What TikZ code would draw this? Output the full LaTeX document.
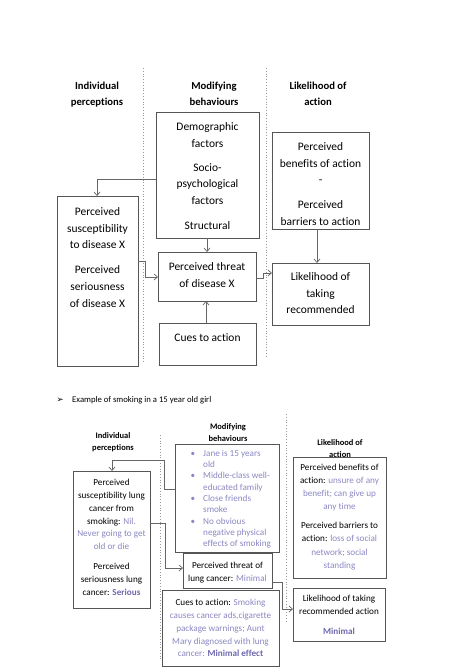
\documentclass[tikz,border=0pt]{standalone}
\usepackage{fontspec}
\setmainfont[Ligatures=NoCommon]{Carlito}
\newfontfamily\dejavu{DejaVu Sans}
\usetikzlibrary{arrows.meta,fit}
\definecolor{pur}{HTML}{8B87C2}
\definecolor{purb}{HTML}{6D67AD}
\definecolor{bord}{HTML}{555555}
\definecolor{dotc}{HTML}{999999}
\tikzset{
  box/.style={draw=bord, line width=0.9bp, inner sep=0pt, outer sep=0pt},
  arr/.style={draw=bord!90, line width=0.7bp, -{Straight Barb[length=3.5bp,width=6bp]}},
  dotline/.style={draw=dotc, line width=0.8bp, dotted},
  txtA/.style={anchor=north, align=center, inner sep=0pt, font=\fontsize{11.5}{16.6}\selectfont},
  hdrA/.style={anchor=north, align=center, inner sep=0pt, font=\fontsize{10.7}{16}\selectfont\bfseries},
  txtB/.style={anchor=north, align=center, inner sep=0pt, font=\fontsize{9.2}{13}\selectfont},
  hdrB/.style={anchor=north, align=center, inner sep=0pt, font=\fontsize{8.5}{12.5}\selectfont\bfseries},
}
\begin{document}
\begin{tikzpicture}[x=1bp,y=-1bp]
\useasboundingbox (0,0) rectangle (474,670);
% ---------- top diagram ----------
\draw[dotline] (143,68) -- (143,363);
\draw[dotline] (266,68) -- (266,358);
\node[hdrA] (h1) at (97,82) {Individual\\perceptions};
\node[hdrA] (h2) at (214,82) {Modifying\\behaviours};
\node[hdrA] (h3) at (318,82) {Likelihood of\\action};

\node[box, fit={(57,196) (138,366)}] (lp) {};
\node[box, fit={(156,112) (259,238)}] (mod) {};
\node[box, fit={(158,252) (256,301)}] (thr) {};
\node[box, fit={(159,323) (256,365)}] (cue) {};
\node[box, fit={(272,132) (369,229)}] (ben) {};
\node[box, fit={(272,263) (369,325)}] (lik) {};

\node[txtA] (lpT) at (97.5,207.7) {Perceived\\susceptibility\\to disease X\\[8.5bp]Perceived\\seriousness\\of disease X};
\node[txtA] (modT) at (207.5,122.7) {Demographic\\factors\\[7.4bp]Socio-\\psychological\\factors\\[8.4bp]Structural};
\node[txtA] (thrT) at (207,262.7) {Perceived threat\\of disease X};
\node[txtA] (cueT) at (207.5,333.7) {Cues to action};
\node[txtA] (benT) at (320.5,142.7) {Perceived\\benefits of action\\-\\[8bp]Perceived\\barriers to action};
\node[txtA] (likT) at (320.5,272.7) {Likelihood of\\taking\\recommended};

\coordinate (t1) at (97,179);
\draw[arr] (t1 -| mod.west) -- (t1) -- (t1 |- lp.north);
\coordinate (t2) at (207,0);
\draw[arr] (t2 |- mod.south) -- (t2 |- thr.north);
\coordinate (t3a) at (145,261);
\coordinate (t3b) at (145,277);
\draw[arr] (t3a -| lp.east) -- (t3a) -- (t3b) -- (t3b -| thr.west);
\coordinate (t4a) at (263,278);
\coordinate (t4b) at (263,273);
\draw[arr] (t4a -| thr.east) -- (t4a) -- (t4b) -- (t4b -| lik.west);
\coordinate (t5) at (317,0);
\draw[arr] (t5 |- ben.south) -- (t5 |- lik.north);
\coordinate (t6) at (206,0);
\draw[arr] (t6 |- cue.north) -- (t6 |- thr.south);

% ---------- example line ----------
\node[anchor=west, inner sep=0pt, font=\dejavu\fontsize{8.5}{9}\selectfont] (bul) at (56.5,400) {➢};
\node[anchor=west, inner sep=0pt, font=\fontsize{8.7}{10}\selectfont] (ex) at (72,400) {Example of smoking in a 15 year old girl};

% ---------- bottom diagram ----------
\draw[dotline] (160,435) -- (160,660);
\draw[dotline] (286,414) -- (286,622);
\node[hdrB] (bh1) at (113,431.9) {Individual\\perceptions};
\node[hdrB] (bh2) at (228,422.9) {Modifying\\behaviours};
\node[hdrB] (bh3) at (340,438.9) {Likelihood of\\action};

\node[box, fit={(73,471) (150,608)}] (blp) {};
\node[box, fit={(175,444) (279,552)}] (bmod) {};
\node[box, fit={(183,553) (272,588)}] (bthr) {};
\node[box, fit={(162,590) (279,666)}] (bcue) {};
\node[box, fit={(293,457) (386,578)}] (bben) {};
\node[box, fit={(293,588) (385,641)}] (blik) {};

\node[txtB] (blpT) at (111.5,478.6) {Perceived\\susceptibility lung\\cancer from\\smoking: \textcolor{pur}{Nil.}\\\textcolor{pur}{Never going to get}\\\textcolor{pur}{old or die}\\[7bp]Perceived\\seriousness lung\\cancer: \textcolor{purb}{\bfseries Serious}};
\node[anchor=north west, align=left, inner sep=0pt, text=pur, font=\fontsize{9.2}{11.4}\selectfont] (bmodT) at (190.5,449.6) {\makebox[12.5bp][l]{•}Jane is 15 years\\\hspace*{12.5bp}old\\\makebox[12.5bp][l]{•}Middle-class well-\\\hspace*{12.5bp}educated family\\\makebox[12.5bp][l]{•}Close friends\\\hspace*{12.5bp}smoke\\\makebox[12.5bp][l]{•}No obvious\\\hspace*{12.5bp}negative physical\\\hspace*{12.5bp}effects of smoking};
\node[txtB] (bthrT) at (227.5,561.6) {Perceived threat of\\lung cancer: \textcolor{pur}{Minimal}};
\node[txtB] (bcueT) at (220.5,598.6) {Cues to action: \textcolor{pur}{Smoking}\\\textcolor{pur}{causes cancer ads,cigarette}\\\textcolor{pur}{package warnings; Aunt}\\\textcolor{pur}{Mary diagnosed with lung}\\\textcolor{pur}{cancer: }\textcolor{purb}{\bfseries Minimal effect}};
\node[txtB, font=\fontsize{9.2}{13.2}\selectfont] (bbenT) at (339.5,463.6) {Perceived benefits of\\action: \textcolor{pur}{unsure of any}\\\textcolor{pur}{benefit; can give up}\\\textcolor{pur}{any time}\\[6bp]Perceived barriers to\\action: \textcolor{pur}{loss of social}\\\textcolor{pur}{network; social}\\\textcolor{pur}{standing}};
\node[txtB, font=\fontsize{9.2}{13.8}\selectfont] (blikT) at (339,594.6) {Likelihood of taking\\recommended action\\[6.2bp]\textcolor{purb}{\bfseries Minimal}};

\coordinate (b1a) at (164,489);
\coordinate (b1b) at (164,460);
\coordinate (b1c) at (112,460);
\draw[arr] (b1a -| bmod.west) -- (b1a) -- (b1b) -- (b1c) -- (b1c |- blp.north);
\coordinate (b2a) at (165,523);
\coordinate (b2b) at (165,568);
\draw[arr] (b2a -| blp.east) -- (b2a) -- (b2b) -- (b2b -| bthr.west);
\coordinate (b3a) at (282,582);
\coordinate (b3b) at (282,609);
\draw[arr] (b3a -| bthr.east) -- (b3a) -- (b3b) -- (b3b -| blik.west);
\end{tikzpicture}
\end{document}
